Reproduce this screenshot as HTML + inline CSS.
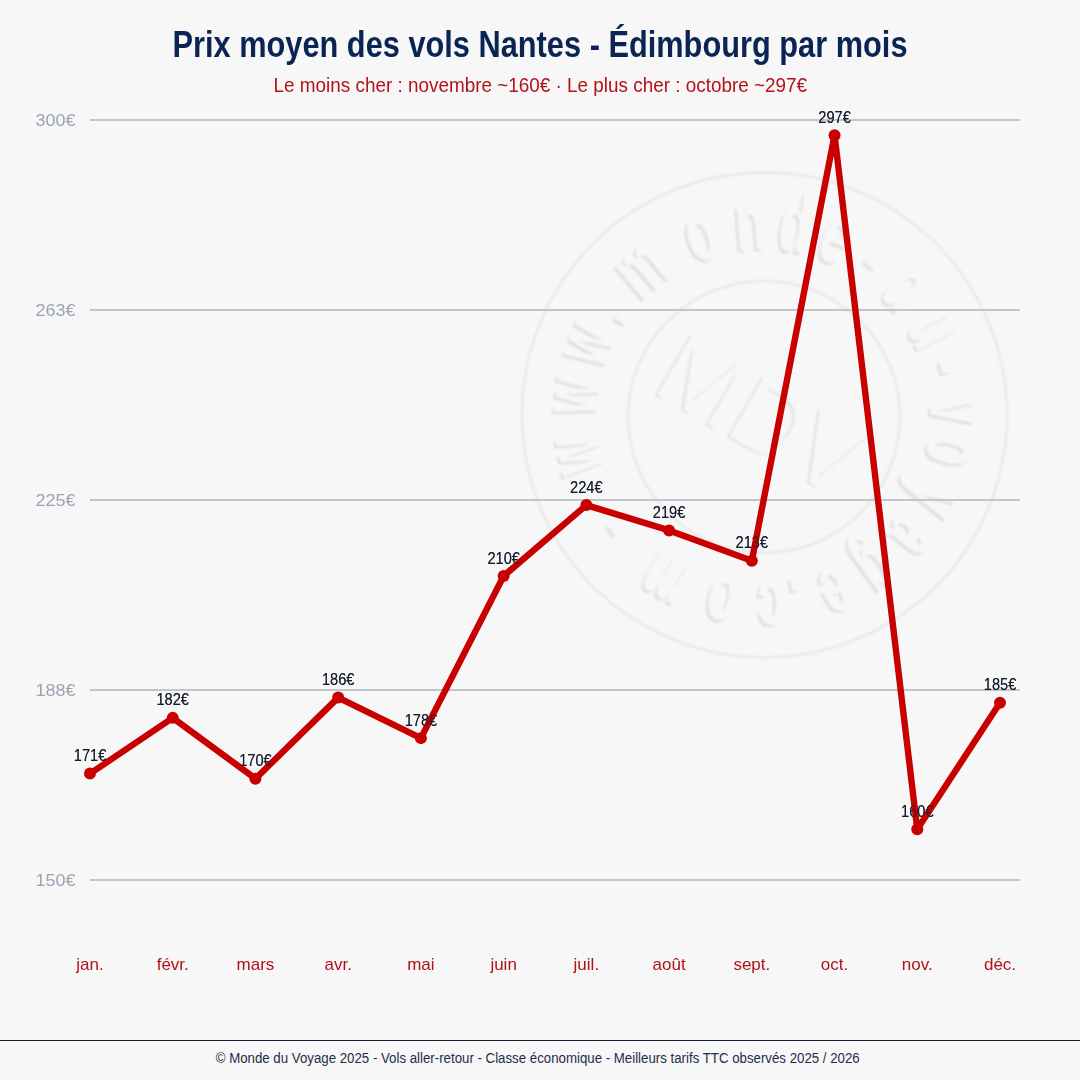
<!DOCTYPE html>
<html><head><meta charset="utf-8"><style>
html,body{margin:0;padding:0;background:#f7f7f7;}
svg{display:block;font-family:"Liberation Sans",sans-serif;}
.g{stroke:#c3c5cb;stroke-width:2;}
.yl{fill:#9ba3b4;font-size:16px;}
.ml{fill:#b0121b;font-size:17px;}
.dl{fill:#141c2e;font-size:16px;}
.d{fill:#c80000;}
</style></head><body>
<svg width="1080" height="1080" viewBox="0 0 1080 1080">
<rect width="1080" height="1080" fill="#f7f7f7"/>
<defs><filter id="bl" x="-10%" y="-10%" width="120%" height="120%"><feGaussianBlur stdDeviation="1.1"/></filter></defs>
<g transform="translate(764.5,415)">
<g fill="none" stroke="#e8e8e8" stroke-width="2.4" filter="url(#bl)">
<circle r="242.5"/><circle cx="-0.5" cy="2" r="136"/>
</g>
<g filter="url(#bl)">
<g font-family="Liberation Sans" font-weight="bold" font-size="76" fill="#e0e0e0" transform="translate(-2.5,2.5)"><text transform="rotate(258)translate(0,-166)scale(0.64,1.08)" text-anchor="middle">w</text><text transform="rotate(276)translate(0,-166)scale(0.64,1.08)" text-anchor="middle">w</text><text transform="rotate(292)translate(0,-166)scale(0.64,1.08)" text-anchor="middle">w</text><text transform="rotate(304)translate(0,-166)scale(0.64,1.08)" text-anchor="middle">.</text><text transform="rotate(320)translate(0,-166)scale(0.64,1.08)" text-anchor="middle">m</text><text transform="rotate(340.5)translate(0,-166)scale(0.64,1.08)" text-anchor="middle">o</text><text transform="rotate(355.5)translate(0,-166)scale(0.64,1.08)" text-anchor="middle">n</text><text transform="rotate(9)translate(0,-166)scale(0.64,1.08)" text-anchor="middle">d</text><text transform="rotate(22)translate(0,-166)scale(0.64,1.08)" text-anchor="middle">e</text><text transform="rotate(35)translate(0,-166)scale(0.64,1.08)" text-anchor="middle">-</text><text transform="rotate(48)translate(0,-166)scale(0.64,1.08)" text-anchor="middle">d</text><text transform="rotate(63)translate(0,-166)scale(0.64,1.08)" text-anchor="middle">u</text><text transform="rotate(75)translate(0,-166)scale(0.64,1.08)" text-anchor="middle">-</text><text transform="rotate(88.5)translate(0,-166)scale(0.64,1.08)" text-anchor="middle">v</text><text transform="rotate(100.7)translate(0,-166)scale(0.64,1.08)" text-anchor="middle">o</text><text transform="rotate(116.5)translate(0,-166)scale(0.64,1.08)" text-anchor="middle">y</text><text transform="rotate(129.7)translate(0,-166)scale(0.64,1.08)" text-anchor="middle">a</text><text transform="rotate(144)translate(0,-166)scale(0.64,1.08)" text-anchor="middle">g</text><text transform="rotate(158)translate(0,-166)scale(0.64,1.08)" text-anchor="middle">e</text><text transform="rotate(170)translate(0,-166)scale(0.64,1.08)" text-anchor="middle">.</text><text transform="rotate(178)translate(0,-166)scale(0.64,1.08)" text-anchor="middle">c</text><text transform="rotate(193)translate(0,-166)scale(0.64,1.08)" text-anchor="middle">o</text><text transform="rotate(211)translate(0,-166)scale(0.64,1.08)" text-anchor="middle">m</text><text transform="rotate(233)translate(0,-166)scale(0.64,1.08)" text-anchor="middle">-</text></g>
<g font-family="Liberation Sans" font-weight="bold" font-size="76" fill="#f7f7f7"><text transform="rotate(258)translate(0,-166)scale(0.64,1.08)" text-anchor="middle">w</text><text transform="rotate(276)translate(0,-166)scale(0.64,1.08)" text-anchor="middle">w</text><text transform="rotate(292)translate(0,-166)scale(0.64,1.08)" text-anchor="middle">w</text><text transform="rotate(304)translate(0,-166)scale(0.64,1.08)" text-anchor="middle">.</text><text transform="rotate(320)translate(0,-166)scale(0.64,1.08)" text-anchor="middle">m</text><text transform="rotate(340.5)translate(0,-166)scale(0.64,1.08)" text-anchor="middle">o</text><text transform="rotate(355.5)translate(0,-166)scale(0.64,1.08)" text-anchor="middle">n</text><text transform="rotate(9)translate(0,-166)scale(0.64,1.08)" text-anchor="middle">d</text><text transform="rotate(22)translate(0,-166)scale(0.64,1.08)" text-anchor="middle">e</text><text transform="rotate(35)translate(0,-166)scale(0.64,1.08)" text-anchor="middle">-</text><text transform="rotate(48)translate(0,-166)scale(0.64,1.08)" text-anchor="middle">d</text><text transform="rotate(63)translate(0,-166)scale(0.64,1.08)" text-anchor="middle">u</text><text transform="rotate(75)translate(0,-166)scale(0.64,1.08)" text-anchor="middle">-</text><text transform="rotate(88.5)translate(0,-166)scale(0.64,1.08)" text-anchor="middle">v</text><text transform="rotate(100.7)translate(0,-166)scale(0.64,1.08)" text-anchor="middle">o</text><text transform="rotate(116.5)translate(0,-166)scale(0.64,1.08)" text-anchor="middle">y</text><text transform="rotate(129.7)translate(0,-166)scale(0.64,1.08)" text-anchor="middle">a</text><text transform="rotate(144)translate(0,-166)scale(0.64,1.08)" text-anchor="middle">g</text><text transform="rotate(158)translate(0,-166)scale(0.64,1.08)" text-anchor="middle">e</text><text transform="rotate(170)translate(0,-166)scale(0.64,1.08)" text-anchor="middle">.</text><text transform="rotate(178)translate(0,-166)scale(0.64,1.08)" text-anchor="middle">c</text><text transform="rotate(193)translate(0,-166)scale(0.64,1.08)" text-anchor="middle">o</text><text transform="rotate(211)translate(0,-166)scale(0.64,1.08)" text-anchor="middle">m</text><text transform="rotate(233)translate(0,-166)scale(0.64,1.08)" text-anchor="middle">-</text></g>
</g>
<g transform="rotate(30)" font-family="Liberation Sans" font-size="100" filter="url(#bl)"><text x="-2" y="38" text-anchor="middle" fill="#e2e2e2">MDV</text><text x="0" y="36" text-anchor="middle" fill="#f7f7f7">MDV</text></g>
</g>
<line x1="90" y1="120" x2="1020" y2="120" class="g"/>
<text x="75.5" y="125.7" class="yl" text-anchor="end" textLength="40" lengthAdjust="spacingAndGlyphs">300€</text>
<line x1="90" y1="310" x2="1020" y2="310" class="g"/>
<text x="75.5" y="315.7" class="yl" text-anchor="end" textLength="40" lengthAdjust="spacingAndGlyphs">263€</text>
<line x1="90" y1="500" x2="1020" y2="500" class="g"/>
<text x="75.5" y="505.7" class="yl" text-anchor="end" textLength="40" lengthAdjust="spacingAndGlyphs">225€</text>
<line x1="90" y1="690" x2="1020" y2="690" class="g"/>
<text x="75.5" y="695.7" class="yl" text-anchor="end" textLength="40" lengthAdjust="spacingAndGlyphs">188€</text>
<line x1="90" y1="880" x2="1020" y2="880" class="g"/>
<text x="75.5" y="885.7" class="yl" text-anchor="end" textLength="40" lengthAdjust="spacingAndGlyphs">150€</text>

<text x="540" y="56.5" text-anchor="middle" font-weight="bold" font-size="37" fill="#0a2454" textLength="735" lengthAdjust="spacingAndGlyphs">Prix moyen des vols Nantes - Édimbourg par mois</text>
<text x="540.3" y="92" text-anchor="middle" font-size="20" fill="#b3121a" textLength="533.4" lengthAdjust="spacingAndGlyphs">Le moins cher : novembre ~160€ · Le plus cher : octobre ~297€</text>
<text x="90.00" y="970" class="ml" text-anchor="middle">jan.</text>
<text x="172.73" y="970" class="ml" text-anchor="middle">févr.</text>
<text x="255.45" y="970" class="ml" text-anchor="middle">mars</text>
<text x="338.18" y="970" class="ml" text-anchor="middle">avr.</text>
<text x="420.91" y="970" class="ml" text-anchor="middle">mai</text>
<text x="503.64" y="970" class="ml" text-anchor="middle">juin</text>
<text x="586.36" y="970" class="ml" text-anchor="middle">juil.</text>
<text x="669.09" y="970" class="ml" text-anchor="middle">août</text>
<text x="751.82" y="970" class="ml" text-anchor="middle">sept.</text>
<text x="834.55" y="970" class="ml" text-anchor="middle">oct.</text>
<text x="917.27" y="970" class="ml" text-anchor="middle">nov.</text>
<text x="1000.00" y="970" class="ml" text-anchor="middle">déc.</text>

<text x="90.00" y="761.10" class="dl" text-anchor="middle" textLength="32.5" lengthAdjust="spacingAndGlyphs">171€</text>
<text x="172.73" y="705.37" class="dl" text-anchor="middle" textLength="32.5" lengthAdjust="spacingAndGlyphs">182€</text>
<text x="255.45" y="766.17" class="dl" text-anchor="middle" textLength="32.5" lengthAdjust="spacingAndGlyphs">170€</text>
<text x="338.18" y="685.10" class="dl" text-anchor="middle" textLength="32.5" lengthAdjust="spacingAndGlyphs">186€</text>
<text x="420.91" y="725.63" class="dl" text-anchor="middle" textLength="32.5" lengthAdjust="spacingAndGlyphs">178€</text>
<text x="503.64" y="563.50" class="dl" text-anchor="middle" textLength="32.5" lengthAdjust="spacingAndGlyphs">210€</text>
<text x="586.36" y="492.57" class="dl" text-anchor="middle" textLength="32.5" lengthAdjust="spacingAndGlyphs">224€</text>
<text x="669.09" y="517.90" class="dl" text-anchor="middle" textLength="32.5" lengthAdjust="spacingAndGlyphs">219€</text>
<text x="751.82" y="548.30" class="dl" text-anchor="middle" textLength="32.5" lengthAdjust="spacingAndGlyphs">213€</text>
<text x="834.55" y="122.70" class="dl" text-anchor="middle" textLength="32.5" lengthAdjust="spacingAndGlyphs">297€</text>
<text x="917.27" y="816.83" class="dl" text-anchor="middle" textLength="32.5" lengthAdjust="spacingAndGlyphs">160€</text>
<text x="1000.00" y="690.17" class="dl" text-anchor="middle" textLength="32.5" lengthAdjust="spacingAndGlyphs">185€</text>

<polyline points="90.00,773.60 172.73,717.87 255.45,778.67 338.18,697.60 420.91,738.13 503.64,576.00 586.36,505.07 669.09,530.40 751.82,560.80 834.55,135.20 917.27,829.33 1000.00,702.67" fill="none" stroke="#c80000" stroke-width="6.4" stroke-linejoin="round" stroke-linecap="round"/>
<circle cx="90.00" cy="773.60" r="6" class="d"/>
<circle cx="172.73" cy="717.87" r="6" class="d"/>
<circle cx="255.45" cy="778.67" r="6" class="d"/>
<circle cx="338.18" cy="697.60" r="6" class="d"/>
<circle cx="420.91" cy="738.13" r="6" class="d"/>
<circle cx="503.64" cy="576.00" r="6" class="d"/>
<circle cx="586.36" cy="505.07" r="6" class="d"/>
<circle cx="669.09" cy="530.40" r="6" class="d"/>
<circle cx="751.82" cy="560.80" r="6" class="d"/>
<circle cx="834.55" cy="135.20" r="6" class="d"/>
<circle cx="917.27" cy="829.33" r="6" class="d"/>
<circle cx="1000.00" cy="702.67" r="6" class="d"/>

<g opacity="0.7"><text x="90.00" y="761.10" class="dl" text-anchor="middle" textLength="32.5" lengthAdjust="spacingAndGlyphs">171€</text>
<text x="172.73" y="705.37" class="dl" text-anchor="middle" textLength="32.5" lengthAdjust="spacingAndGlyphs">182€</text>
<text x="255.45" y="766.17" class="dl" text-anchor="middle" textLength="32.5" lengthAdjust="spacingAndGlyphs">170€</text>
<text x="338.18" y="685.10" class="dl" text-anchor="middle" textLength="32.5" lengthAdjust="spacingAndGlyphs">186€</text>
<text x="420.91" y="725.63" class="dl" text-anchor="middle" textLength="32.5" lengthAdjust="spacingAndGlyphs">178€</text>
<text x="503.64" y="563.50" class="dl" text-anchor="middle" textLength="32.5" lengthAdjust="spacingAndGlyphs">210€</text>
<text x="586.36" y="492.57" class="dl" text-anchor="middle" textLength="32.5" lengthAdjust="spacingAndGlyphs">224€</text>
<text x="669.09" y="517.90" class="dl" text-anchor="middle" textLength="32.5" lengthAdjust="spacingAndGlyphs">219€</text>
<text x="751.82" y="548.30" class="dl" text-anchor="middle" textLength="32.5" lengthAdjust="spacingAndGlyphs">213€</text>
<text x="834.55" y="122.70" class="dl" text-anchor="middle" textLength="32.5" lengthAdjust="spacingAndGlyphs">297€</text>
<text x="917.27" y="816.83" class="dl" text-anchor="middle" textLength="32.5" lengthAdjust="spacingAndGlyphs">160€</text>
<text x="1000.00" y="690.17" class="dl" text-anchor="middle" textLength="32.5" lengthAdjust="spacingAndGlyphs">185€</text>
</g>
<line x1="0" y1="1040.5" x2="1080" y2="1040.5" stroke="#14213a" stroke-width="1.2"/>
<text x="537.7" y="1063" text-anchor="middle" font-size="14" fill="#1f2d47" textLength="644" lengthAdjust="spacingAndGlyphs">© Monde du Voyage 2025 - Vols aller-retour - Classe économique - Meilleurs tarifs TTC observés 2025 / 2026</text>
</svg>
</body></html>
